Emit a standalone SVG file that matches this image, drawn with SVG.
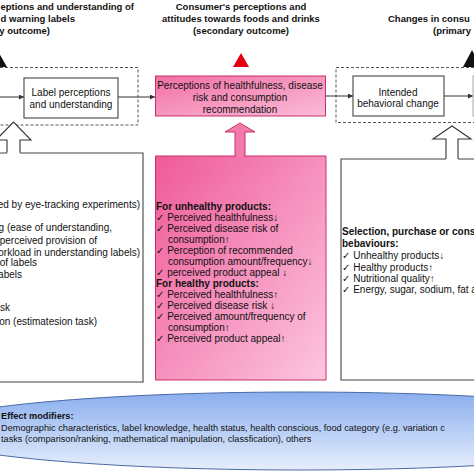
<svg xmlns="http://www.w3.org/2000/svg" width="474" height="474" viewBox="0 0 474 474">
<defs>
<linearGradient id="pinkBig" x1="0" y1="0" x2="1" y2="1">
<stop offset="0" stop-color="#ef5a97"/>
<stop offset="0.5" stop-color="#f690bd"/>
<stop offset="1" stop-color="#fcc6de"/>
</linearGradient>
<linearGradient id="pinkTop" x1="0" y1="0" x2="1" y2="1">
<stop offset="0" stop-color="#f170a6"/>
<stop offset="1" stop-color="#fbbcd7"/>
</linearGradient>
<linearGradient id="blue" x1="0" y1="0" x2="0" y2="1">
<stop offset="0" stop-color="#8aaeee"/>
<stop offset="1" stop-color="#e6eefc"/>
</linearGradient>
<marker id="ah" viewBox="0 0 6 6" refX="6" refY="3" markerWidth="5" markerHeight="5" orient="auto" markerUnits="userSpaceOnUse">
<path d="M0,0 L6,3 L0,6 z" fill="#333"/>
</marker>
<style>
text{font-family:"Liberation Sans",Arial,"DejaVu Sans",sans-serif;fill:#111;}
.t{font-size:9.5px;font-weight:bold;}
.b{font-size:10px;}
.bb{font-size:10px;font-weight:bold;}
.em{font-size:9.2px;}
.dash{fill:none;stroke:#555;stroke-width:1;stroke-dasharray:3,2;}
.box{fill:#fff;stroke:#444;stroke-width:1.1;}
.big{fill:none;stroke:#444;stroke-width:1.1;}
.hollow{fill:#fff;stroke:#333;stroke-width:1.1;}
.con{fill:none;stroke:#333;stroke-width:1;}
</style>
</defs>
<rect width="474" height="474" fill="#fff"/>

<g id="titles">
<text class="t" x="134" y="10" text-anchor="end">eptions and understanding of</text>
<text class="t" x="75" y="22" text-anchor="end">d warning labels</text>
<text class="t" x="50" y="34" text-anchor="end">y outcome)</text>
<text class="t" x="241" y="10" text-anchor="middle">Consumer's perceptions and</text>
<text class="t" x="241" y="22" text-anchor="middle">attitudes towards foods and drinks</text>
<text class="t" x="241" y="34" text-anchor="middle">(secondary outcome)</text>
<text class="t" x="388" y="22">Changes in consu</text>
<text class="t" x="433" y="34">(primary</text>
<polygon points="-1,53 -9,67 7,67" fill="#111"/>
<polygon points="241,53 233,67 249,67" fill="#e60012"/>
<polygon points="472,50 463,67 481,67" fill="#111"/>
</g>

<g id="dashed-groups">
<rect class="dash" x="-10" y="67.5" width="148" height="57.5"/>
<rect class="dash" x="336" y="67.5" width="150" height="55"/>
</g>

<g id="connectors">
<line class="con" x1="-5" y1="97" x2="24" y2="97" marker-end="url(#ah)"/>
<line class="con" x1="118" y1="97" x2="155" y2="97" marker-end="url(#ah)"/>
<line class="con" x1="326" y1="96" x2="353" y2="96" marker-end="url(#ah)"/>
<line class="con" x1="444" y1="96" x2="473" y2="96" marker-end="url(#ah)"/>
</g>

<g id="label-perceptions">
<rect class="box" x="24" y="78" width="94" height="40"/>
<text class="b" x="71" y="96" text-anchor="middle">Label perceptions</text>
<text class="b" x="71" y="108" text-anchor="middle">and understanding</text>
</g>

<g id="perceptions-top">
<rect x="155.5" y="76" width="170" height="40" fill="url(#pinkTop)" stroke="#c8306a" stroke-width="1"/>
<text class="b" x="240" y="88.5" text-anchor="middle">Perceptions of healthfulness, disease</text>
<text class="b" x="240" y="100.5" text-anchor="middle">risk and consumption</text>
<text class="b" x="240" y="112.5" text-anchor="middle">recommendation</text>
</g>

<g id="intended-change">
<rect class="box" x="353" y="76" width="91" height="40"/>
<text class="b" x="398" y="95.5" text-anchor="middle">Intended</text>
<text class="b" x="398" y="107" text-anchor="middle">behavioral change</text>
</g>

<g id="right-edge-box">
<rect x="473" y="76" width="20" height="40" fill="#fff" stroke="#aaa" stroke-width="1"/>
</g>

<g id="left-box">
<path class="big" d="M-5,153 H7 M20,153 H143 V382 H-5"/>
<path class="hollow" d="M7,153 V140 H-4 L13.5,122 L31,140 H20 V153"/>
<line x1="7.6" y1="153" x2="19.4" y2="153" stroke="#fff" stroke-width="2"/>
<text class="b" x="140" y="207.5" text-anchor="end">ed by eye-tracking experiments)</text>
<text class="b" x="112" y="231" text-anchor="end">g (ease of understanding,</text>
<text class="b" x="97" y="243.5" text-anchor="end">, perceived provision of</text>
<text class="b" x="140" y="256" text-anchor="end">orkload in understanding labels)</text>
<text class="b" x="37" y="265.5" text-anchor="end">of labels</text>
<text class="b" x="22" y="277.5" text-anchor="end">abels</text>
<text class="b" x="10" y="311" text-anchor="end">sk</text>
<text class="b" x="97" y="325" text-anchor="end">on (estimatesion task)</text>
</g>

<g id="pink-box">
<path d="M155.5,156 H326 V380 H155.5 Z" fill="url(#pinkBig)"/>
<path d="M235,156 H155.5 V380 H326 V156 H245" fill="none" stroke="#c8306a" stroke-width="1"/>
<path d="M235,157 V132 H225 L240,123 L255,132 H245 V157" fill="#f27aad" stroke="#c8306a" stroke-width="1"/>
<text class="bb" x="156" y="210">For unhealthy products:</text>
<text class="b" x="156" y="221">✓ Perceived healthfulness↓</text>
<text class="b" x="156" y="232">✓ Perceived disease risk of</text>
<text class="b" x="168" y="243">consumption↑</text>
<text class="b" x="156" y="254">✓ Perception of recommended</text>
<text class="b" x="168" y="265">consumption amount/frequency↓</text>
<text class="b" x="156" y="276">✓ perceived product appeal ↓</text>
<text class="bb" x="156" y="287">For healthy products:</text>
<text class="b" x="156" y="298">✓ Perceived healthfulness↑</text>
<text class="b" x="156" y="309">✓ Perceived disease risk ↓</text>
<text class="b" x="156" y="320">✓ Perceived amount/frequency of</text>
<text class="b" x="168" y="331">consumption↑</text>
<text class="b" x="156" y="342">✓ Perceived product appeal↑</text>
</g>

<g id="right-box">
<path class="big" d="M446,159 H341 V380 H480 M458,159 H480"/>
<path class="hollow" d="M446,159 V139 H433 L452,126 L471,139 H458 V159"/>
<line x1="446.6" y1="159" x2="457.4" y2="159" stroke="#fff" stroke-width="2"/>
<text class="bb" x="342" y="234.5">Selection, purchase or cons</text>
<text class="bb" x="342" y="246.5">bebaviours:</text>
<text class="b" x="342" y="258.5">✓ Unhealthy products↓</text>
<text class="b" x="342" y="270.5">✓ Healthy products↑</text>
<text class="b" x="342" y="281.5">✓ Nutritional quality↑</text>
<text class="b" x="342" y="292.5">✓ Energy, sugar, sodium, fat a</text>
</g>

<g id="effect-modifiers">
<ellipse cx="300" cy="431" rx="382" ry="39" fill="url(#blue)" stroke="#4a6aa5" stroke-width="1"/>
<text class="em" x="1" y="419" font-weight="bold">Effect modifiers:</text>
<text class="em" x="1" y="431">Demographic characteristics, label knowledge, health status, health conscious, food category (e.g. variation c</text>
<text class="em" x="1" y="442">tasks (comparison/ranking, mathematical manipulation, classfication), others</text>
</g>
</svg>
